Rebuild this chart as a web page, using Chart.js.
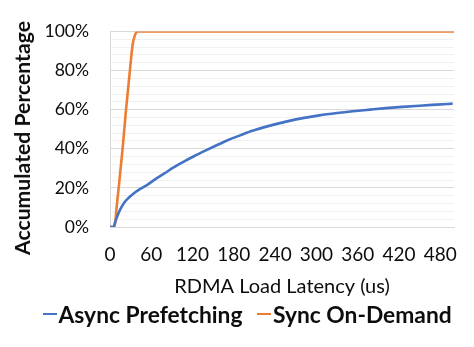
<!DOCTYPE html>
<html><head><meta charset="utf-8">
<script src="https://cdn.jsdelivr.net/npm/chart.js@4.4.0/dist/chart.umd.min.js"></script>
<style>
html,body{margin:0;padding:0;background:#fff;}
#wrap{position:relative;width:474px;height:347px;overflow:hidden;font-family:Lato,sans-serif;color:#0d0d0d;}
#c{position:absolute;left:0;top:0;}
#ytitle{position:absolute;left:22px;top:138px;transform:translate(-50%,-50%) rotate(-90deg);white-space:nowrap;font-weight:bold;font-size:21.2px;line-height:24px;}
#legend{position:absolute;left:43px;top:301px;height:26px;display:flex;align-items:center;white-space:nowrap;font-weight:bold;font-size:22.8px;line-height:26px;}
.item{display:flex;align-items:center;margin-right:15px;}
.mk{display:inline-block;width:14px;height:2.5px;margin-right:1.5px;}
</style></head>
<body><div id="wrap"><canvas id="c" width="474" height="347"></canvas><div id="ytitle"></div><div id="legend"></div></div>
<script>
const seriesNames = ['Async Prefetching', 'Sync On-Demand'];
const seriesColors = ['#4472C4', '#ED7D31'];
const asyncLatency = [0, 4.8, 8, 13.5, 20.8, 28, 35.3, 44, 54.7, 66, 79, 93, 108, 122, 137, 152, 171, 190, 207, 230, 256, 280, 304, 330, 353, 378, 401, 425, 450, 475, 498];
const asyncPct     = [0, 0, 3, 8, 12.5, 15.2, 17.4, 19.5, 21.7, 24.5, 27.4, 30.6, 33.6, 36.2, 38.8, 41.3, 44.4, 47, 49.2, 51.6, 53.9, 55.7, 57.1, 58.3, 59.2, 60.05, 60.8, 61.45, 62.05, 62.6, 63.1];
const syncLatency  = [0, 6, 7.5, 9.6, 12.5, 18.4, 23.2, 29, 33, 36.5, 40, 60, 500];
const syncPct      = [0, 0, 2, 10, 19.6, 40.4, 59.6, 80.3, 93.5, 98.3, 100, 100, 100];
const xTickLabels = ['0', '60', '120', '180', '240', '300', '360', '420', '480'];
const yTickLabels = ['0%', '20%', '40%', '60%', '80%', '100%'];
const xTitle = 'RDMA Load Latency (us)';
const yTitle = 'Accumulated Percentage';

document.getElementById('ytitle').textContent = yTitle;
const leg = document.getElementById('legend');
seriesNames.forEach((n, i) => {
  const it = document.createElement('div'); it.className = 'item';
  const mk = document.createElement('span'); mk.className = 'mk'; mk.style.background = seriesColors[i];
  const tx = document.createElement('span'); tx.textContent = n;
  it.appendChild(mk); it.appendChild(tx); leg.appendChild(it);
});

const toPts = (xs, ys) => xs.map((x, i) => ({x: x, y: ys[i]}));

new Chart(document.getElementById('c'), {
  type: 'line',
  data: {
    datasets: [
      {label: seriesNames[0], data: toPts(asyncLatency, asyncPct), borderColor: seriesColors[0], borderWidth: 2.6, pointRadius: 0, cubicInterpolationMode: 'monotone', fill: false},
      {label: seriesNames[1], data: toPts(syncLatency, syncPct), borderColor: seriesColors[1], borderWidth: 2.6, pointRadius: 0, cubicInterpolationMode: 'monotone', fill: false}
    ]
  },
  options: {
    responsive: false, animation: false, devicePixelRatio: 1,
    layout: {padding: {left: 0, right: 20, top: 17, bottom: 48}},
    plugins: {legend: {display: false}, tooltip: {enabled: false}},
    scales: {
      x: {
        type: 'linear', min: 0, max: 500,
        afterBuildTicks: s => { s.ticks = xTickLabels.map(l => ({value: Number(l)})); },
        ticks: {callback: v => xTickLabels[xTickLabels.indexOf(String(v))] || '', padding: 16, font: {family: 'Lato', size: 19}, color: '#0d0d0d', maxRotation: 0, autoSkip: false},
        grid: {display: false, drawTicks: false},
        border: {display: true, color: '#d9d9d9', width: 1},
        title: {display: true, text: xTitle, font: {family: 'Lato', size: 20}, color: '#0d0d0d', padding: {top: 0, bottom: 0}},
        afterFit: s => { s.height = 72; }
      },
      y: {
        min: 0, max: 100,
        afterBuildTicks: s => { const t = []; for (let v = 0; v <= 100; v += 4) t.push({value: v}); s.ticks = t; },
        ticks: {autoSkip: false, padding: 21, callback: v => (v % 20 === 0 ? yTickLabels[v / 20] : ''), font: {family: 'Lato', size: 17.5}, color: '#0d0d0d'},
        grid: {drawTicks: false, color: c => (c.tick && c.tick.value % 20 === 0 ? '#d9d9d9' : '#f0f0f0'), lineWidth: 1},
        border: {display: true, color: '#d9d9d9', width: 1},
        afterFit: s => { s.width = 110; }
      }
    }
  }
});
</script>
</body></html>
